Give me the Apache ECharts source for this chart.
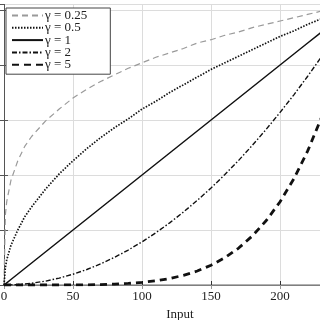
<!DOCTYPE html>
<html><head><meta charset="utf-8">
<script src="https://cdn.jsdelivr.net/npm/echarts@6/dist/echarts.min.js"></script>
<style>html,body{margin:0;padding:0;background:#fff}#c{width:320px;height:320px}</style>
</head><body><div id="c"></div>
<script>
var inputs = [0,1,2,5,10,15,20,30,40,50,60,70,80,90,100,110,120,130,140,150,160,170,180,190,200,210,220,230,240,255];
var g025 = [0,64,76,95,113,126,135,149,160,170,178,185,191,197,202,207,211,215,220,223,227,230,234,237,240,243,246,249,251,255];
var g05  = [0,16,23,36,50,62,71,87,101,113,124,134,143,151,160,167,175,182,189,196,202,208,214,220,226,231,237,242,247,255];
var g1   = [0,1,2,5,10,15,20,30,40,50,60,70,80,90,100,110,120,130,140,150,160,170,180,190,200,210,220,230,240,255];
var g2   = [0,0,0,0.1,0.4,0.9,1.6,3.5,6.3,9.8,14.1,19.2,25.1,31.8,39.2,47.5,56.5,66.3,76.9,88.2,100.4,113.3,127.1,141.6,156.9,172.9,189.8,207.5,225.9,255];
var g5   = [0,0,0,0,0,0,0,0,0.02,0.07,0.18,0.4,0.78,1.4,2.37,3.81,5.88,8.78,12.7,18.0,24.8,33.6,44.7,58.6,75.7,96.6,121.9,152.2,188.3,255];
var seriesNames = ['γ = 0.25','γ = 0.5','γ = 1','γ = 2','γ = 5'];
var xTicks = [0,50,100,150,200,250];

function pairs(ys){ return inputs.map(function(x,i){ return [x, ys[i]]; }); }
var serif = '"Liberation Serif","DejaVu Serif",serif';
var chart = echarts.init(document.getElementById('c'));
var styles = [
  {color:'#9a9a9a', width:1.2, type:[6,4]},
  {color:'#111', width:1.7, type:[1.5,1.5]},
  {color:'#111', width:1.5, type:'solid'},
  {color:'#111', width:1.4, type:[5,2,1.5,2]},
  {color:'#111', width:2.8, type:[7,5]}
];
var data = [g025,g05,g1,g2,g5];
chart.setOption({
  animation:false,
  backgroundColor:'#fff',
  grid:{left:4, top:4.5, width:352, height:280.5, containLabel:false, outerBoundsMode:'none'},
  legend:{
    orient:'vertical', left:6, top:8,
    data:seriesNames,
    itemWidth:31, itemHeight:10, itemGap:-0.7,
    itemStyle:{opacity:0},
    padding:[1,23,3,5],
    borderColor:'#444', borderWidth:1, backgroundColor:'#fff',
    textStyle:{fontFamily:serif, fontSize:13, lineHeight:11, color:'#222', padding:[0,0,0,-3]}
  },
  xAxis:[{
    type:'value', min:0, max:255, interval:50,
    axisLine:{show:true, lineStyle:{color:'#333', width:1}},
    axisTick:{show:true, inside:true, length:4, lineStyle:{color:'#333'}},
    axisLabel:{fontFamily:serif, fontSize:13, color:'#222', margin:5,
      formatter:function(v){ return xTicks.indexOf(v)>=0 ? String(v) : ''; }},
    splitLine:{show:true, lineStyle:{color:'#dcdcdc', width:1}},
    name:'Input', nameLocation:'middle', nameGap:20,
    nameTextStyle:{fontFamily:serif, fontSize:13, color:'#222'}
  },{
    type:'value', min:0, max:255, interval:50, position:'top',
    axisLine:{show:true, lineStyle:{color:'#999', width:1.5}},
    axisTick:{show:true, inside:true, length:4, lineStyle:{color:'#999'}},
    axisLabel:{show:false}, splitLine:{show:false}
  }],
  yAxis:[{
    type:'value', min:0, max:255, interval:50,
    axisLine:{show:true, lineStyle:{color:'#555', width:1}},
    axisTick:{show:true, inside:true, length:4, lineStyle:{color:'#555'}},
    axisLabel:{fontFamily:serif, fontSize:13, color:'#222'},
    splitLine:{show:true, lineStyle:{color:'#dcdcdc', width:1}}
  },{
    type:'value', min:0, max:255, interval:50, position:'right',
    axisLine:{show:true, lineStyle:{color:'#555'}},
    axisTick:{show:true, inside:true, length:4},
    axisLabel:{show:false}, splitLine:{show:false}
  }],
  series: seriesNames.map(function(n,i){
    return {name:n, type:'line', data:pairs(data[i]), symbol:'none', showSymbol:false,
      smooth:false, clip:true,
      itemStyle:{color:styles[i].color},
      lineStyle:{color:styles[i].color, width:styles[i].width, type:styles[i].type}};
  })
});
</script></body></html>
